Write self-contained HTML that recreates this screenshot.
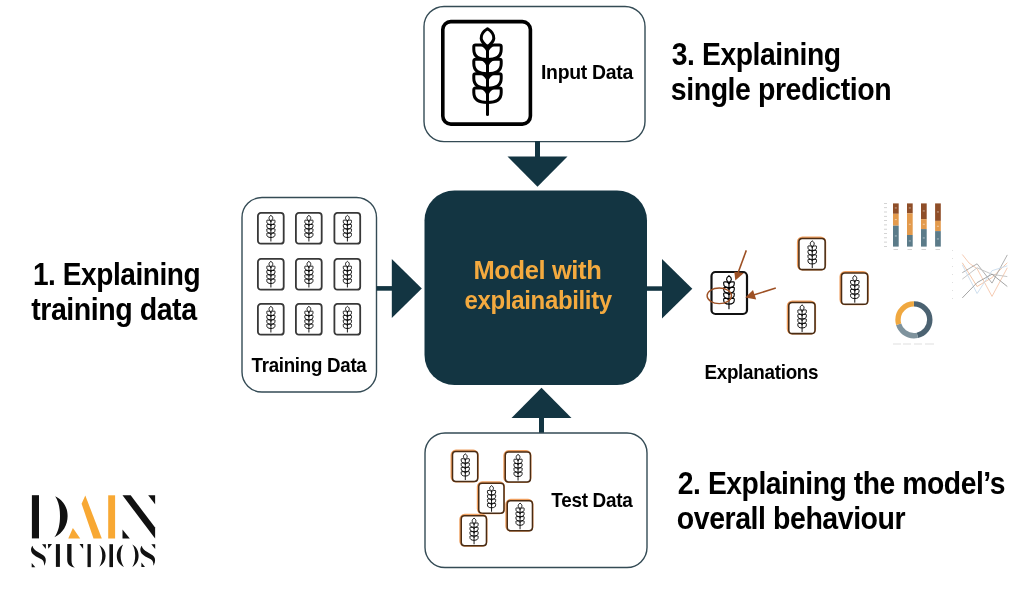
<!DOCTYPE html>
<html><head><meta charset="utf-8">
<style>
html,body{margin:0;padding:0;background:#fff;}
body{width:1024px;height:607px;overflow:hidden;}
svg{display:block;will-change:transform;}
text{font-family:"Liberation Sans",sans-serif;font-weight:bold;}
</style></head>
<body>
<svg width="1024" height="607" viewBox="0 0 1024 607">
<defs>
  <g id="wheat" fill="none" stroke="#000" stroke-width="3" stroke-linejoin="round" stroke-linecap="butt">
    <path d="M15,0.8 C19.5,3.5 21.5,7 21.3,10.5 C21,13.5 18,16.5 15,19 C12,16.5 9,13.5 8.7,10.5 C8.5,7 10.5,3.5 15,0.8 Z"/>
    <path d="M15,18 L15,86.6" stroke-linecap="round"/>
    <path d="M15,22.40 C13.2,18.70 11,16.90 8.5,16.90 L3,16.90 Q1.3,16.90 1.3,18.60 L1.3,21.40 C1.3,27.90 5.2,31.40 15,31.40"/><path d="M15,22.40 C16.8,18.70 19,16.90 21.5,16.90 L27,16.90 Q28.7,16.90 28.7,18.60 L28.7,21.40 C28.7,27.90 24.8,31.40 15,31.40"/>
    <path d="M15,36.80 C13.2,33.10 11,31.30 8.5,31.30 L3,31.30 Q1.3,31.30 1.3,33.00 L1.3,35.80 C1.3,42.30 5.2,45.80 15,45.80"/><path d="M15,36.80 C16.8,33.10 19,31.30 21.5,31.30 L27,31.30 Q28.7,31.30 28.7,33.00 L28.7,35.80 C28.7,42.30 24.8,45.80 15,45.80"/>
    <path d="M15,51.20 C13.2,47.50 11,45.70 8.5,45.70 L3,45.70 Q1.3,45.70 1.3,47.40 L1.3,50.20 C1.3,56.70 5.2,60.20 15,60.20"/><path d="M15,51.20 C16.8,47.50 19,45.70 21.5,45.70 L27,45.70 Q28.7,45.70 28.7,47.40 L28.7,50.20 C28.7,56.70 24.8,60.20 15,60.20"/>
    <path d="M15,65.60 C13.2,61.90 11,60.10 8.5,60.10 L3,60.10 Q1.3,60.10 1.3,61.80 L1.3,64.60 C1.3,71.10 5.2,74.60 15,74.60"/><path d="M15,65.60 C16.8,61.90 19,60.10 21.5,60.10 L27,60.10 Q28.7,60.10 28.7,61.80 L28.7,64.60 C28.7,71.10 24.8,74.60 15,74.60"/>
  </g>
</defs>

<!-- Top box: Input Data -->
<rect x="424" y="6.5" width="221" height="135.1" rx="20" fill="#fff" stroke="#344b55" stroke-width="1.4"/>
<rect x="442.8" y="21.6" width="87.6" height="102.5" rx="8" fill="none" stroke="#000" stroke-width="3.6"/>
<use href="#wheat" x="472.5" y="28"/>
<text x="541" y="78.8" font-size="20.2" letter-spacing="-0.3" textLength="92" lengthAdjust="spacingAndGlyphs">Input Data</text>

<!-- down arrow -->
<rect x="535" y="141" width="5" height="16" fill="#133542"/>
<polygon points="507.5,156.5 567.5,156.5 537.5,186.8" fill="#133542"/>

<!-- center box -->
<rect x="424.5" y="190.5" width="222.5" height="194.5" rx="30" fill="#133542"/>
<text x="473.4" y="278.6" font-size="26.2" letter-spacing="-0.4" fill="#f4aa3f" textLength="128" lengthAdjust="spacingAndGlyphs">Model with</text>
<text x="464.6" y="308.6" font-size="26.2" letter-spacing="-0.4" fill="#f4aa3f" textLength="147.2" lengthAdjust="spacingAndGlyphs">explainability</text>

<!-- left box: training -->
<rect x="242" y="197.5" width="134.5" height="194.5" rx="20" fill="#fff" stroke="#344b55" stroke-width="1.4"/>
<g transform="translate(257,212)"><rect x="0.9" y="0.9" width="25.8" height="30.8" rx="3" fill="#fff" stroke="#383838" stroke-width="1.8"/><use href="#wheat" transform="translate(9.4,3.1) scale(0.3)"/></g>
<g transform="translate(295,212)"><rect x="0.9" y="0.9" width="25.8" height="30.8" rx="3" fill="#fff" stroke="#383838" stroke-width="1.8"/><use href="#wheat" transform="translate(9.4,3.1) scale(0.3)"/></g>
<g transform="translate(333.5,212)"><rect x="0.9" y="0.9" width="25.8" height="30.8" rx="3" fill="#fff" stroke="#383838" stroke-width="1.8"/><use href="#wheat" transform="translate(9.4,3.1) scale(0.3)"/></g>
<g transform="translate(257,258)"><rect x="0.9" y="0.9" width="25.8" height="30.8" rx="3" fill="#fff" stroke="#383838" stroke-width="1.8"/><use href="#wheat" transform="translate(9.4,3.1) scale(0.3)"/></g>
<g transform="translate(295,258)"><rect x="0.9" y="0.9" width="25.8" height="30.8" rx="3" fill="#fff" stroke="#383838" stroke-width="1.8"/><use href="#wheat" transform="translate(9.4,3.1) scale(0.3)"/></g>
<g transform="translate(333.5,258)"><rect x="0.9" y="0.9" width="25.8" height="30.8" rx="3" fill="#fff" stroke="#383838" stroke-width="1.8"/><use href="#wheat" transform="translate(9.4,3.1) scale(0.3)"/></g>
<g transform="translate(257,303)"><rect x="0.9" y="0.9" width="25.8" height="30.8" rx="3" fill="#fff" stroke="#383838" stroke-width="1.8"/><use href="#wheat" transform="translate(9.4,3.1) scale(0.3)"/></g>
<g transform="translate(295,303)"><rect x="0.9" y="0.9" width="25.8" height="30.8" rx="3" fill="#fff" stroke="#383838" stroke-width="1.8"/><use href="#wheat" transform="translate(9.4,3.1) scale(0.3)"/></g>
<g transform="translate(333.5,303)"><rect x="0.9" y="0.9" width="25.8" height="30.8" rx="3" fill="#fff" stroke="#383838" stroke-width="1.8"/><use href="#wheat" transform="translate(9.4,3.1) scale(0.3)"/></g>
<text x="251.5" y="372" font-size="20.2" letter-spacing="-0.3" textLength="115" lengthAdjust="spacingAndGlyphs">Training Data</text>

<!-- left arrow -->
<rect x="376.5" y="286.1" width="16" height="4.6" fill="#133542"/>
<polygon points="391.8,259 421.8,288.5 391.8,318" fill="#133542"/>

<!-- right arrow -->
<rect x="646" y="286.3" width="17" height="4.5" fill="#133542"/>
<polygon points="662,259 692.3,288.8 662,318.6" fill="#133542"/>

<!-- up arrow -->
<polygon points="511.5,418 571.5,418 541.5,387.8" fill="#133542"/>
<rect x="539" y="417" width="5" height="16" fill="#133542"/>

<!-- bottom box: test -->
<rect x="425" y="433" width="222" height="134.5" rx="20" fill="#fff" stroke="#344b55" stroke-width="1.4"/>
<g transform="translate(451.75,451)"><rect x="-0.3" y="-0.5" width="26.4" height="31" rx="4.5" fill="#fff" stroke="#f0a060" stroke-width="1.8"/><rect x="0.75" y="0.5" width="25.2" height="30" rx="3.2" fill="#fff" stroke="#4a2c14" stroke-width="1.5"/><use href="#wheat" transform="translate(9.05,2.65) scale(0.3)"/></g>
<g transform="translate(504.5,451.5)"><rect x="-0.3" y="-0.5" width="26.4" height="31" rx="4.5" fill="#fff" stroke="#f0a060" stroke-width="1.8"/><rect x="0.75" y="0.5" width="25.2" height="30" rx="3.2" fill="#fff" stroke="#4a2c14" stroke-width="1.5"/><use href="#wheat" transform="translate(9.05,2.65) scale(0.3)"/></g>
<g transform="translate(478,482.75)"><rect x="-0.3" y="-0.5" width="26.4" height="31" rx="4.5" fill="#fff" stroke="#f0a060" stroke-width="1.8"/><rect x="0.75" y="0.5" width="25.2" height="30" rx="3.2" fill="#fff" stroke="#4a2c14" stroke-width="1.5"/><use href="#wheat" transform="translate(9.05,2.65) scale(0.3)"/></g>
<g transform="translate(506.5,500.25)"><rect x="-0.3" y="-0.5" width="26.4" height="31" rx="4.5" fill="#fff" stroke="#f0a060" stroke-width="1.8"/><rect x="0.75" y="0.5" width="25.2" height="30" rx="3.2" fill="#fff" stroke="#4a2c14" stroke-width="1.5"/><use href="#wheat" transform="translate(9.05,2.65) scale(0.3)"/></g>
<g transform="translate(460.5,515.25)"><rect x="-0.3" y="-0.5" width="26.4" height="31" rx="4.5" fill="#fff" stroke="#f0a060" stroke-width="1.8"/><rect x="0.75" y="0.5" width="25.2" height="30" rx="3.2" fill="#fff" stroke="#4a2c14" stroke-width="1.5"/><use href="#wheat" transform="translate(9.05,2.65) scale(0.3)"/></g>
<text x="551.3" y="507.3" font-size="20.2" letter-spacing="-0.3" textLength="81.2" lengthAdjust="spacingAndGlyphs">Test Data</text>

<!-- explanations -->
<g>
  <rect x="711.5" y="272" width="35.5" height="42" rx="4" fill="#fff" stroke="#111" stroke-width="2.2"/>
  <use href="#wheat" transform="translate(723.2,275.4) scale(0.385)"/>
  <ellipse cx="719.3" cy="295.8" rx="12.2" ry="7.8" fill="none" stroke="#9d5024" stroke-width="1.4"/>
  <line x1="746.3" y1="250.4" x2="738" y2="273" stroke="#9d5024" stroke-width="1.6"/>
  <polygon points="734.3,271.8 743.9,273.1 735.3,280.6" fill="#9d5024"/>
  <line x1="775.8" y1="288" x2="752" y2="295.5" stroke="#9d5024" stroke-width="1.6"/>
  <polygon points="753,290 756.2,299.6 745.3,297.6" fill="#9d5024"/>
</g>
<g transform="translate(798.15,237.9) scale(1.04)"><rect x="-0.3" y="-0.5" width="26.4" height="31" rx="4.5" fill="#fff" stroke="#f0a060" stroke-width="1.8"/><rect x="0.75" y="0.5" width="25.2" height="30" rx="3.2" fill="#fff" stroke="#4a2c14" stroke-width="1.5"/><use href="#wheat" transform="translate(9.05,2.65) scale(0.3)"/></g>
<g transform="translate(840.6999999999999,272.5) scale(1.04)"><rect x="-0.3" y="-0.5" width="26.4" height="31" rx="4.5" fill="#fff" stroke="#f0a060" stroke-width="1.8"/><rect x="0.75" y="0.5" width="25.2" height="30" rx="3.2" fill="#fff" stroke="#4a2c14" stroke-width="1.5"/><use href="#wheat" transform="translate(9.05,2.65) scale(0.3)"/></g>
<g transform="translate(788.0,301.90000000000003) scale(1.04)"><rect x="-0.3" y="-0.5" width="26.4" height="31" rx="4.5" fill="#fff" stroke="#f0a060" stroke-width="1.8"/><rect x="0.75" y="0.5" width="25.2" height="30" rx="3.2" fill="#fff" stroke="#4a2c14" stroke-width="1.5"/><use href="#wheat" transform="translate(9.05,2.65) scale(0.3)"/></g>
<text x="704.4" y="378.8" font-size="20.2" letter-spacing="-0.3" textLength="113.9" lengthAdjust="spacingAndGlyphs">Explanations</text>


<!-- bar chart -->
<g>
  <g fill="#c8c8c8">
    <rect x="884" y="203" width="3" height="0.8"/><rect x="884" y="207.3" width="3" height="0.8"/><rect x="884" y="211.6" width="3" height="0.8"/>
    <rect x="884" y="215.9" width="3" height="0.8"/><rect x="884" y="220.2" width="3" height="0.8"/><rect x="884" y="224.5" width="3" height="0.8"/>
    <rect x="884" y="228.8" width="3" height="0.8"/><rect x="884" y="233.1" width="3" height="0.8"/><rect x="884" y="237.4" width="3" height="0.8"/>
    <rect x="884" y="241.7" width="3" height="0.8"/><rect x="884" y="246" width="3" height="0.8"/>
    <rect x="893.5" y="249" width="4.5" height="0.8"/><rect x="907.5" y="249" width="4.5" height="0.8"/><rect x="921.5" y="249" width="4.5" height="0.8"/><rect x="935.5" y="249" width="4.5" height="0.8"/>
  </g>
  <rect x="893" y="203.4" width="5.7" height="10.4" fill="#8f4e28"/>
  <rect x="893" y="213.8" width="5.7" height="11.9" fill="#e39a4c"/>
  <rect x="893" y="225.7" width="5.7" height="20.9" fill="#5b7b89"/>
  <rect x="907" y="203.4" width="5.7" height="9.9" fill="#8f4e28"/>
  <rect x="907" y="213.3" width="5.7" height="21.7" fill="#e39a4c"/>
  <rect x="907" y="235" width="5.7" height="11.6" fill="#5b7b89"/>
  <rect x="921" y="203.4" width="5.7" height="15.8" fill="#8f4e28"/>
  <rect x="921" y="219.2" width="5.7" height="9.9" fill="#e39a4c"/>
  <rect x="921" y="229.1" width="5.7" height="17.5" fill="#5b7b89"/>
  <rect x="935.1" y="203.4" width="5.7" height="17.5" fill="#8f4e28"/>
  <rect x="935.1" y="220.9" width="5.7" height="10.2" fill="#e39a4c"/>
  <rect x="935.1" y="231.1" width="5.7" height="15.5" fill="#5b7b89"/>
  <g fill="#fff" opacity="0.55">
    <rect x="894.8" y="207.5" width="2" height="0.9"/><rect x="894.8" y="219.2" width="2" height="0.9"/><rect x="894.8" y="235.5" width="2" height="0.9"/>
    <rect x="908.8" y="207.5" width="2" height="0.9"/><rect x="908.8" y="223.8" width="2" height="0.9"/><rect x="908.8" y="240.5" width="2" height="0.9"/>
    <rect x="922.8" y="210.5" width="2" height="0.9"/><rect x="922.8" y="223.8" width="2" height="0.9"/><rect x="922.8" y="237.5" width="2" height="0.9"/>
    <rect x="936.9" y="211.5" width="2" height="0.9"/><rect x="936.9" y="225.8" width="2" height="0.9"/><rect x="936.9" y="238.5" width="2" height="0.9"/>
  </g>
</g>
<!-- line chart -->
<g fill="none" stroke-width="0.9" stroke-linejoin="round" opacity="0.8">
  <g fill="#d8d8d8" stroke="none">
    <rect x="952" y="250" width="1" height="1"/><rect x="952" y="258" width="1" height="1"/><rect x="952" y="266" width="1" height="1"/>
    <rect x="952" y="274" width="1" height="1"/><rect x="952" y="282" width="1" height="1"/><rect x="952" y="290" width="1" height="1"/><rect x="952" y="298" width="1" height="1"/>
  </g>
  <polyline points="962.3,254.5 969,263 977.1,268.7 992,296.4 1007.3,267.8" stroke="#f2b896"/>
  <polyline points="962.3,262.8 977.1,286.5 992,277.6 1007.3,262.8" stroke="#eeb088"/>
  <polyline points="962.3,272.7 977.1,263.8 992,283.1 1007.3,254.9" stroke="#8e8e8e"/>
  <polyline points="962.3,279.1 977.1,267.8 992,274.3 1007.3,276.6" stroke="#b0b0b0"/>
  <polyline points="962.3,264.8 977.1,293.5 992,270.7 1007.3,265.8" stroke="#bcd2e8"/>
  <polyline points="962.3,297.9 977.1,282.6 992,274.2 1007.3,286.5" stroke="#808080"/>
</g>
<!-- donut -->
<g transform="translate(913.9,319.8) rotate(-90)" fill="none" stroke-width="5.4">
  <circle r="15.9" stroke="#4b6271" stroke-dasharray="46.06 200" stroke-dashoffset="0"/>
  <circle r="15.9" stroke="#7f939d" stroke-dasharray="23.8 200" stroke-dashoffset="-46.06"/>
  <circle r="15.9" stroke="#f0a840" stroke-dasharray="30.05 200" stroke-dashoffset="-69.86"/>
</g>
<g fill="#d6d6d6">
  <rect x="893" y="343.6" width="8" height="0.8"/><rect x="903" y="343.6" width="8" height="0.8"/><rect x="914" y="343.6" width="8" height="0.8"/><rect x="925" y="343.6" width="9" height="0.8"/>
</g>
<!-- logo -->
<g fill="#111">
  <rect x="31.9" y="495.2" width="7.1" height="43.2"/>
  <path d="M55.2,496.2 C63,500 67.6,507 67.6,516 C67.6,525 63,533 54.4,537.3 C58.5,532 60,524 60,516 C60,508 58.5,501 55.2,496.2 Z"/>
  <polygon points="122.5,495.3 130.7,495.3 155.1,527.6 155.1,538.5"/>
  <polygon points="148.2,495.3 155.1,495.3 155.1,504.2"/>
  <polygon points="122.5,529.5 122.5,538.5 129.8,538.5"/>
</g>
<g fill="#f8a833">
  <polygon points="85.3,495.5 101.8,538.5 93.5,538.5 81.6,503.8"/>
  <polygon points="72.9,528.1 68.3,538.5 80.2,538.5"/>
  <rect x="108.2" y="495.3" width="6.9" height="43.2"/>
</g>
<g fill="#111">
  <path d="M32.5,545.8 C33,548.5 35,550.5 38,552 L43.3,555.2 C45.8,556.8 46.2,560 45.5,562.5 C45,564 44.5,565 44,565.8 C44.3,563 43.8,560.5 41.5,559.2 L36,556.4 C32.5,554.5 30.8,552 31,549.5 C31.1,548 31.7,546.8 32.5,545.8 Z"/>
  <polygon points="31.7,562.9 31.7,567.2 35.3,567.2"/>
  <polygon points="42,544.2 45.9,544.2 45.9,549.1"/>
  <polygon points="47.9,544.1 52,544.1 48.3,548.8"/>
  <rect x="55.9" y="544.1" width="4" height="22.8"/>
  <path d="M67.2,544.1 L71.5,544.1 L71.5,560 C71.5,564 72.5,566.2 74.8,567.4 C70.5,567 67.2,564.6 67.2,560 Z"/>
  <polygon points="79.5,544.1 83.1,544.1 83.1,548.8"/>
  <rect x="87.5" y="544.1" width="3.3" height="23"/>
  <path d="M99.3,544.9 C103.5,547.5 105.6,551 105.6,555.8 C105.6,560.5 103.5,564 99.3,566.7 C101.3,563.5 102.2,560 102.2,555.8 C102.2,551.5 101.3,548 99.3,544.9 Z"/>
  <rect x="109.4" y="544.2" width="3.6" height="22.9"/>
  <path d="M123.2,544.6 C119,547 116.8,551 116.8,555.8 C116.8,560.5 119,564.5 123.9,567 C121.8,564 120.6,560 120.6,555.8 C120.6,551.5 121.5,547.5 123.2,544.6 Z"/>
  <path d="M132.3,544.6 C136.5,547 138.6,551 138.6,555.8 C138.6,560.5 136.5,564.5 132.3,567 C134.3,564 135.2,560 135.2,555.8 C135.2,551.5 134.3,547.5 132.3,544.6 Z"/>
  <path transform="translate(109.3,0)" d="M32.5,545.8 C33,548.5 35,550.5 38,552 L43.3,555.2 C45.8,556.8 46.2,560 45.5,562.5 C45,564 44.5,565 44,565.8 C44.3,563 43.8,560.5 41.5,559.2 L36,556.4 C32.5,554.5 30.8,552 31,549.5 C31.1,548 31.7,546.8 32.5,545.8 Z"/>
  <polygon points="151.3,544.2 155.2,544.2 155.2,549.1"/>
  <polygon points="141.4,562.5 141.4,567.1 145,567.1"/>
</g>

<!-- labels -->
<text x="32.9" y="284.8" font-size="31.2" letter-spacing="-0.5" textLength="167.3" lengthAdjust="spacingAndGlyphs">1. Explaining</text>
<text x="31.2" y="319.5" font-size="31.2" letter-spacing="-0.5" textLength="165.4" lengthAdjust="spacingAndGlyphs">training data</text>
<text x="671.8" y="65" font-size="31.2" letter-spacing="-0.5" textLength="168.9" lengthAdjust="spacingAndGlyphs">3. Explaining</text>
<text x="670.8" y="99.6" font-size="31.2" letter-spacing="-0.5" textLength="220.4" lengthAdjust="spacingAndGlyphs">single prediction</text>
<text x="677.8" y="494.4" font-size="31.2" letter-spacing="-0.5" textLength="327.2" lengthAdjust="spacingAndGlyphs">2. Explaining the model’s</text>
<text x="676.8" y="529.2" font-size="31.2" letter-spacing="-0.5" textLength="228.4" lengthAdjust="spacingAndGlyphs">overall behaviour</text>
</svg>
</body></html>
